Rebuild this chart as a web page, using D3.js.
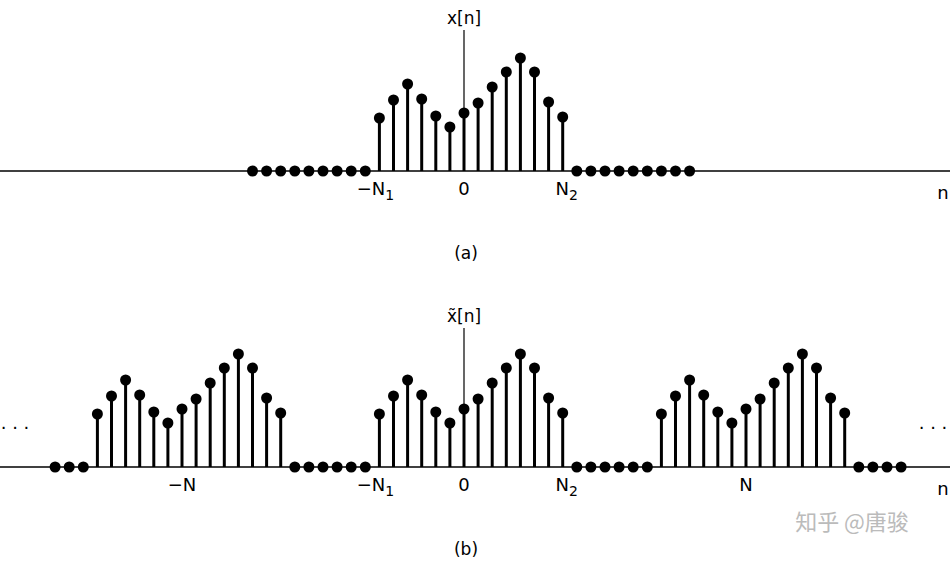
<!DOCTYPE html><html><head><meta charset="utf-8">
<script src="https://cdn.jsdelivr.net/npm/d3@7"></script>
<style>body{margin:0;background:#fff}text{font-family:"DejaVu Sans",sans-serif;fill:#000}</style>
</head><body><svg id="c" width="950" height="562"></svg>
<script>
const N1 = 6, N2 = 7, N = 20;
const pulseN = [-6,-5,-4,-3,-2,-1,0,1,2,3,4,5,6,7];
const pulseVals = [53,71,87,72,55,44,58,68,84,99,113,99,69,54];
const zerosA = [-15,-14,-13,-12,-11,-10,-9,-8,-7,8,9,10,11,12,13,14,15,16];
const zerosB = [-29,-28,-27,-12,-11,-10,-9,-8,-7,8,9,10,11,12,13,28,29,30,31];
const periodShifts = [-20,0,20];

const svg = d3.select("#c");
const x = d3.scaleLinear().domain([0,1]).range([464,478.1]);
const y = d3.scaleLinear().domain([0,113]).range([0,-113]);

function panel(base, pts, zeros, top, label, title, ticks){
  const g = svg.append("g").attr("transform",`translate(0,${base})`);
  const t0 = top - base;
  g.append("line").attr("x1",0).attr("x2",950).attr("y1",0).attr("y2",0).attr("stroke","#000").attr("stroke-width",1.5);
  g.append("line").attr("x1",x(0)).attr("x2",x(0)).attr("y1",t0).attr("y2",0).attr("stroke","#000").attr("stroke-width",1.2);
  g.selectAll(".s").data(pts).join("line").attr("x1",d=>x(d[0])).attr("x2",d=>x(d[0])).attr("y1",0).attr("y2",d=>y(d[1])).attr("stroke","#000").attr("stroke-width",3);
  g.selectAll(".d").data(pts).join("circle").attr("cx",d=>x(d[0])).attr("cy",d=>y(d[1])).attr("r",5.5);
  g.selectAll(".z").data(zeros).join("circle").attr("cx",d=>x(d)).attr("cy",0).attr("r",5.5);
  g.append("text").attr("x",x(0)).attr("y",t0-6).attr("text-anchor","middle").attr("font-size",17).text(label);
  ticks.forEach(t=>{
    const tx = g.append("text").attr("x",x(t[0])+(t[2]||0)).attr("y",24).attr("text-anchor","middle").attr("font-size",18);
    tx.append("tspan").text(t[1]);
    if(t[3]) tx.append("tspan").attr("dy",5).attr("font-size",14).text(t[3]);
  });
  g.append("text").attr("x",943).attr("y",28).attr("text-anchor","middle").attr("font-size",18).text("n");
  g.append("text").attr("x",466).attr("y",88).attr("text-anchor","middle").attr("font-size",17).text(title);
  return g;
}
const ptsA = pulseN.map((n,i)=>[n,pulseVals[i]]);
panel(171, ptsA, zerosA, 30, "x[n]", "(a)", [[-N1,"−N",-4,"1"],[0,"0",0],[N2,"N",4,"2"]]);
const ptsB = periodShifts.flatMap(s=>pulseN.map((n,i)=>[n+s,pulseVals[i]]));
const gb = panel(467, ptsB, zerosB, 328, "x̃[n]", "(b)", [[-N,"−N",0],[-N1,"−N",-4,"1"],[0,"0",0],[N2,"N",4,"2"],[N,"N",0]]);
gb.append("text").attr("x",15).attr("y",-33).attr("text-anchor","middle").attr("font-size",18).text("· · ·");
gb.append("text").attr("x",933).attr("y",-33).attr("text-anchor","middle").attr("font-size",18).text("· · ·");
svg.append("text").attr("x",852).attr("y",530).attr("text-anchor","middle").attr("font-size",22).style("font-family","Noto Sans CJK SC").style("fill","#bbb").text("知乎 @唐骏");
</script></body></html>
